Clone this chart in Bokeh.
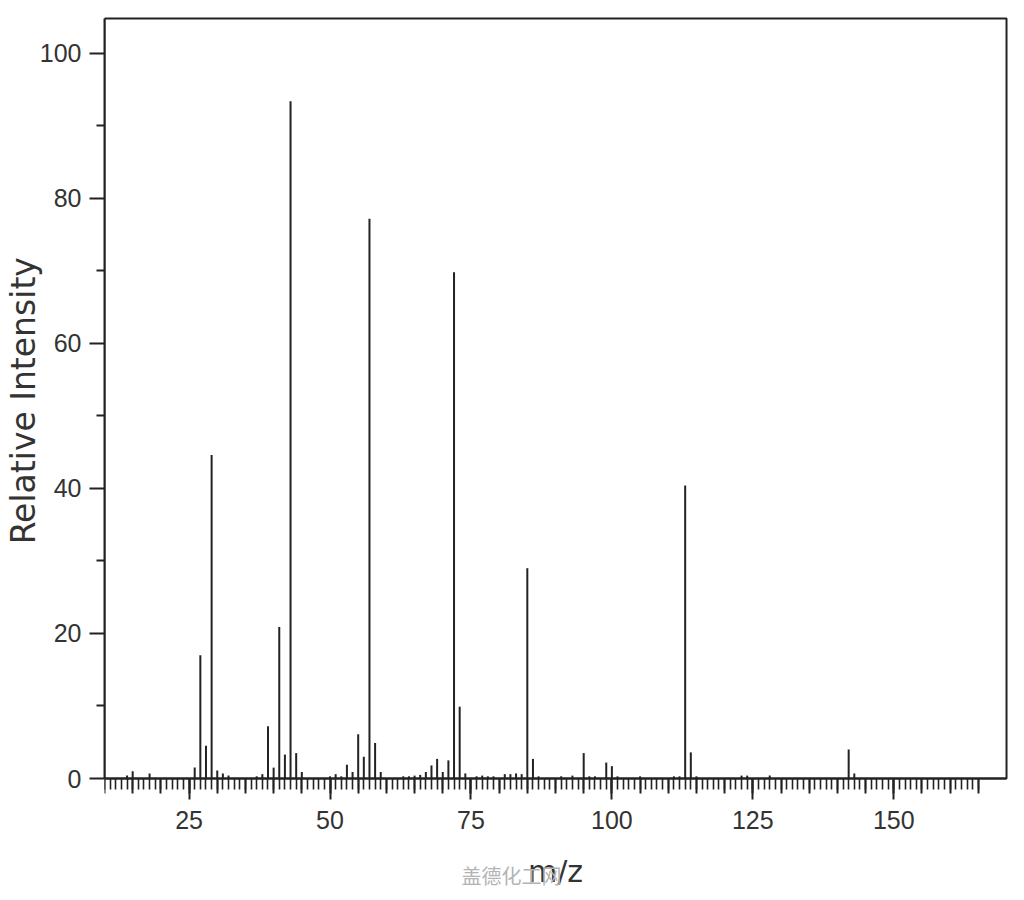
from bokeh.plotting import figure
from bokeh.models import FixedTicker, LinearAxis, Range1d, ColumnDataSource, BoxAnnotation
from bokeh.embed import file_html
from bokeh.resources import INLINE

# m/z values and relative intensities
mz = [14, 15, 18, 26, 27, 28, 29, 30, 31, 32, 37, 38, 39, 40, 41, 42, 43, 44, 45,
      50, 51, 52, 53, 54, 55, 56, 57, 58, 59, 63, 64, 65, 66, 67, 68, 69, 70, 71,
      72, 73, 74, 76, 77, 78, 79, 81, 82, 83, 84, 85, 86, 87, 91, 93, 95, 96, 97,
      99, 100, 101, 105, 111, 112, 113, 114, 115, 123, 124, 128, 142, 143]
intensity = [0.4, 1.0, 0.7, 1.5, 17.0, 4.5, 44.6, 1.1, 0.7, 0.4, 0.3, 0.6, 7.2, 1.5,
             20.9, 3.3, 93.4, 3.5, 0.9,
             0.3, 0.6, 0.3, 1.9, 0.9, 6.1, 3.0, 77.2, 4.9, 0.9, 0.3, 0.3, 0.4, 0.5,
             0.9, 1.8, 2.7, 0.9, 2.5,
             69.8, 9.9, 0.7, 0.3, 0.4, 0.3, 0.3, 0.6, 0.6, 0.7, 0.6, 29.0, 2.7, 0.3,
             0.3, 0.4, 3.5, 0.3, 0.3,
             2.2, 1.7, 0.3, 0.3, 0.3, 0.3, 40.4, 3.6, 0.3, 0.4, 0.4, 0.4, 4.0, 0.7]

X_MIN, X_MAX = 10, 170
Y_MIN, Y_MAX = 0, 104.8
x_major_ticks = list(range(10, 166, 5))
x_minor_ticks = list(range(10, 166))
x_labelled_ticks = [25, 50, 75, 100, 125, 150]
y_major_ticks = [0, 20, 40, 60, 80, 100]
y_minor_ticks = [10, 30, 50, 70, 90]

x_title = "m/z"
y_title = "Relative Intensity"
watermark = "盖德化工网"

INK = "#222222"
TXT = "#333333"

# layout in pixels: frame box 96..1006 x 18..778; the drawing area is extended
# down to the page bottom so that texts under the x axis are not clipped
W, H = 1024, 900
LEFT, TOP_BOX, RIGHT_BOX, BASE = 96, 18, 1006, 778
PAD = 2
px_per_x = (RIGHT_BOX - LEFT) / (X_MAX - X_MIN)
px_per_y = (BASE - TOP_BOX) / (Y_MAX - Y_MIN)

p = figure(width=W, height=H,
           x_range=Range1d(X_MIN, X_MAX + PAD / px_per_x),
           y_range=Range1d(Y_MIN - (H - BASE) / px_per_y, Y_MAX + PAD / px_per_y),
           output_backend="svg", toolbar_location=None,
           x_axis_location=None,
           min_border_left=LEFT, min_border_right=W - RIGHT_BOX - PAD,
           min_border_top=TOP_BOX - PAD, min_border_bottom=0)
p.background_fill_color = "white"
p.border_fill_color = "white"
p.outline_line_color = None
p.xgrid.visible = False
p.ygrid.visible = False

p.add_layout(BoxAnnotation(left=X_MIN, right=X_MAX, bottom=Y_MIN, top=Y_MAX,
                           fill_color=None, fill_alpha=0,
                           line_color=INK, line_alpha=1.0, line_width=2))

src = ColumnDataSource(dict(mz=mz, inten=intensity, base=[0] * len(mz)))
p.segment(x0="mz", y0="base", x1="mz", y1="inten", source=src,
          line_color=INK, line_width=2)

# x axis at y = 0: medium ticks every 5, small every 1, labels at multiples of 25
xa = LinearAxis(fixed_location=0, bounds=(X_MIN, X_MAX),
                ticker=FixedTicker(ticks=x_major_ticks, minor_ticks=x_minor_ticks))
xa.major_label_overrides = {t: (str(t) if t in x_labelled_ticks else "") for t in x_major_ticks}
xa.major_tick_in = 0
xa.major_tick_out = 15
xa.minor_tick_in = 0
xa.minor_tick_out = 11
xa.major_tick_line_width = 2
xa.minor_tick_line_width = 1.6
xa.major_tick_line_color = INK
xa.minor_tick_line_color = INK
xa.axis_line_color = INK
xa.axis_line_width = 2
xa.major_label_standoff = 17
xa.major_label_text_font = "Liberation Sans"
xa.major_label_text_font_size = "25px"
xa.major_label_text_color = TXT
xa.axis_label = x_title
xa.axis_label_text_font = "DejaVu Sans"
xa.axis_label_text_font_size = "30px"
xa.axis_label_text_font_style = "normal"
xa.axis_label_text_color = TXT
xa.axis_label_standoff = 22
p.add_layout(xa, "below")

# long ticks at the labelled positions; carries the faint watermark text
# (trailing wide spaces shift the centred text to the left)
xa2 = LinearAxis(ticker=FixedTicker(ticks=x_labelled_ticks, minor_ticks=[]),
                 fixed_location=0, axis_line_color=None,
                 major_tick_in=0, major_tick_out=21, major_tick_line_width=2,
                 major_tick_line_color=INK, minor_tick_line_color=None,
                 major_label_text_color=None, major_label_text_font_size="1px",
                 major_label_standoff=0,
                 axis_label=watermark + "\u3000" * 4 + "\u2002",
                 axis_label_standoff=61,
                 axis_label_text_font="Noto Sans CJK SC",
                 axis_label_text_font_size="20px",
                 axis_label_text_font_style="normal",
                 axis_label_text_color="#b4b4b4")
p.add_layout(xa2, "below")

# y axis; leading wide spaces move the centred title up to the box centre
ya = p.yaxis[0]
ya.bounds = (Y_MIN, Y_MAX)
ya.ticker = FixedTicker(ticks=y_major_ticks, minor_ticks=y_minor_ticks)
ya.major_tick_in = 0
ya.major_tick_out = 15
ya.minor_tick_in = 0
ya.minor_tick_out = 8
ya.major_tick_line_width = 2
ya.minor_tick_line_width = 2
ya.major_tick_line_color = INK
ya.minor_tick_line_color = INK
ya.axis_line_color = INK
ya.axis_line_width = 2
ya.major_label_standoff = 8
ya.major_label_text_font = "Liberation Sans"
ya.major_label_text_font_size = "25px"
ya.major_label_text_color = TXT
ya.axis_label = "\u2003" * 3 + "\u2002" + y_title
ya.axis_label_text_font = "DejaVu Sans"
ya.axis_label_text_font_size = "33px"
ya.axis_label_text_font_style = "normal"
ya.axis_label_text_color = TXT
ya.axis_label_standoff = -6

open("out.html", "w").write(file_html(p, INLINE))
